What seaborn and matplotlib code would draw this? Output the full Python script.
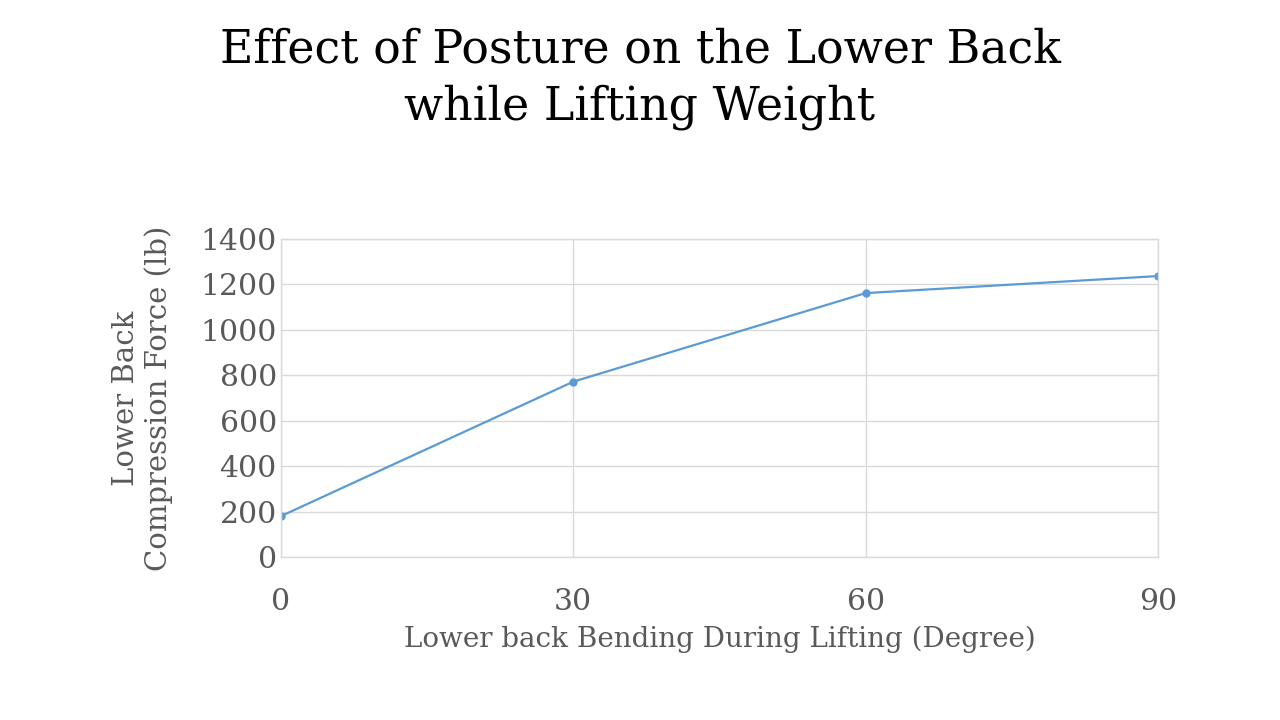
import pandas as pd
import matplotlib
matplotlib.use("Agg")
import matplotlib.pyplot as plt
import seaborn as sns

# values
bend_deg = [0, 30, 60, 90]
force_lb = [180, 772, 1162, 1237]
x_ticks = [0, 30, 60, 90]
y_ticks = [0, 200, 400, 600, 800, 1000, 1200, 1400]

df = pd.DataFrame({"bend": bend_deg, "force": force_lb})

sns.set_theme(style="white")
plt.rcParams['font.family'] = ['DejaVu Serif']

text_grey = "#595959"
grid_grey = "#d9d9d9"
line_blue = "#5b9bd5"

fig = plt.figure(figsize=(12.8, 7.2), dpi=100)
ax = fig.add_axes([0.2195, 0.2264, 0.6852, 0.4416])

sns.lineplot(data=df, x="bend", y="force", ax=ax, color=line_blue,
             linewidth=1.6, marker="o", markersize=6, markeredgewidth=0)

ax.set_xlim(0, 90)
ax.set_ylim(0, 1400)
ax.set_xticks(x_ticks)
ax.set_yticks(y_ticks)
ax.grid(True, color=grid_grey, linewidth=1.0)
for s in ax.spines.values():
    s.set_color(grid_grey)
    s.set_linewidth(1.0)

ax.tick_params(axis="both", length=0, labelsize=21.5, colors=text_grey)
ax.tick_params(axis="x", pad=22)
ax.tick_params(axis="y", pad=3)

ax.set_xlabel("Lower back Bending During Lifting (Degree)", fontsize=20,
              color=text_grey, labelpad=7)
ax.set_ylabel("Lower Back\nCompression Force (lb)", fontsize=21,
              color=text_grey, labelpad=20, linespacing=1.15)

fig.suptitle("Effect of Posture on the Lower Back\nwhile Lifting Weight",
             fontsize=33, color="black", y=0.962, linespacing=1.32)

fig.savefig("out.png", dpi=100, facecolor="white")
